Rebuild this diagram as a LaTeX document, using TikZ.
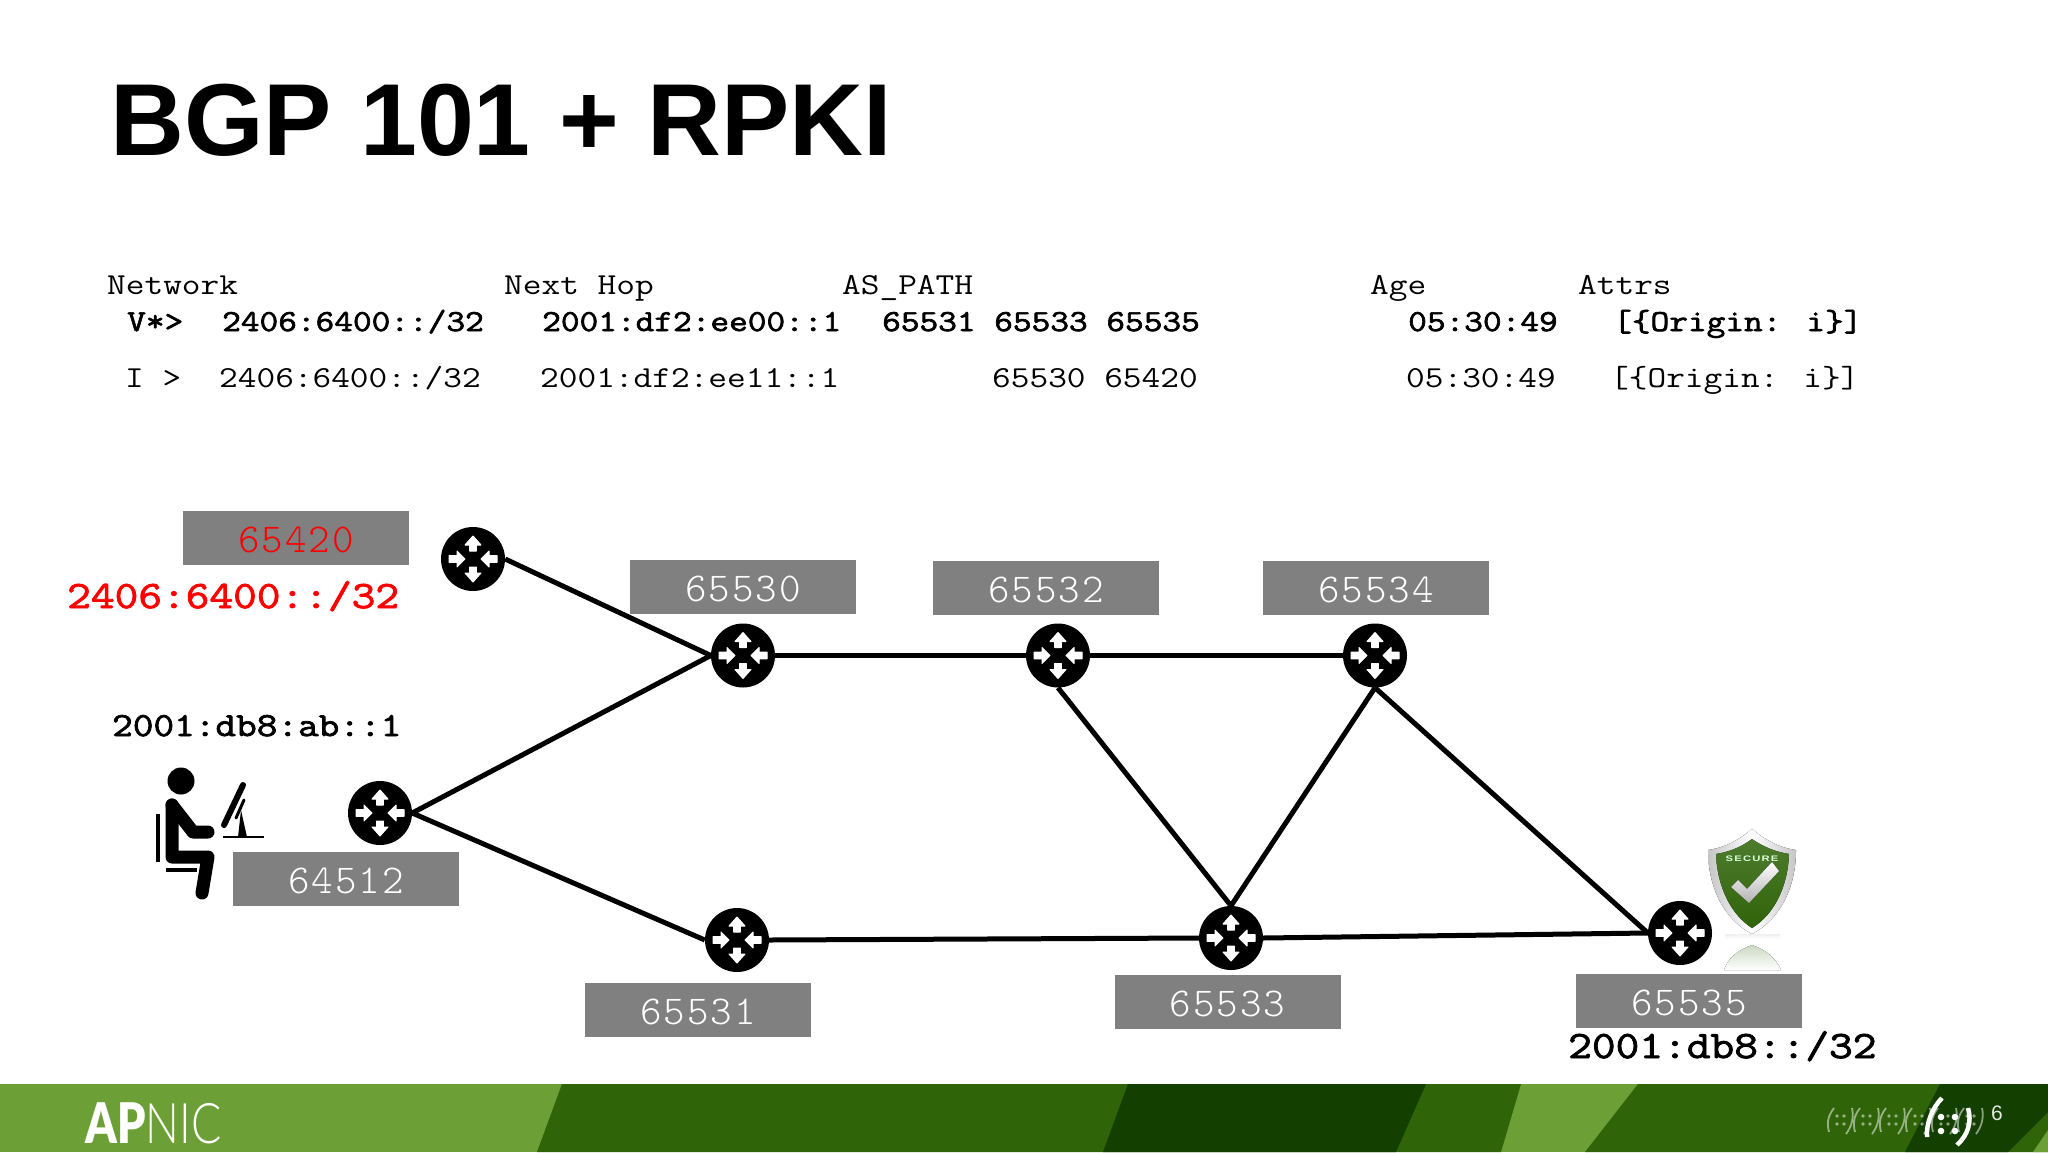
\documentclass[tikz,border=0pt]{standalone}
\usepackage{fontspec}
\setmainfont{Liberation Sans}
\newfontfamily\tabfont[FakeStretch=1.19]{Latin Modern Mono}
\newfontfamily\tabbf[FakeStretch=1.19,FakeBold=2.2]{Latin Modern Mono}
\newfontfamily\lblfont[LetterSpace=5]{Latin Modern Mono Light}
\newfontfamily\capfont{Liberation Sans}
\newfontfamily\secfont[LetterSpace=15,FakeStretch=1.4]{Liberation Sans}
\newfontfamily\apheavy{Lato Black}
\newfontfamily\apthin{Lato Light}
\definecolor{boxgray}{HTML}{808080}
\definecolor{flight}{HTML}{6CA037}
\definecolor{fmid}{HTML}{2F6409}
\definecolor{fdark}{HTML}{133F01}
\tikzset{
  router/.style={circle,fill=black,minimum size=64pt,inner sep=0pt,path picture={
    \begin{scope}[shift={(path picture bounding box.center)}]
      \filldraw[white,line width=1pt,line join=round] (0,-23)--(8,-14)--(3.3,-14)--(3.3,-8)--(-3.3,-8)--(-3.3,-14)--(-8,-14)--cycle;
      \filldraw[white,line width=1pt,line join=round] (0,23)--(8,14)--(3.3,14)--(3.3,8)--(-3.3,8)--(-3.3,14)--(-8,14)--cycle;
      \filldraw[white,line width=1pt,line join=round] (-8,0)--(-16,-8)--(-16,-3.3)--(-24,-3.3)--(-24,3.3)--(-16,3.3)--(-16,8)--cycle;
      \filldraw[white,line width=1pt,line join=round] (8,0)--(16,-8)--(16,-3.3)--(24,-3.3)--(24,3.3)--(16,3.3)--(16,8)--cycle;
    \end{scope}}},
  asbox/.style={fill=boxgray,minimum width=226pt,minimum height=54pt,inner sep=0pt,text=white,text height=29pt,text depth=0pt,font=\lblfont\fontsize{41}{44}\selectfont},
  link/.style={line width=5pt,black},
  tabtext/.style={anchor=base west,inner sep=0pt,font=\tabfont\fontsize{30.5}{32}\selectfont},
  tabbold/.style={anchor=base west,inner sep=0pt,font=\tabbf\fontsize{30.5}{32}\selectfont},
  biglabel/.style={anchor=base west,inner sep=0pt,font=\tabbf\fontsize{38.7}{40}\selectfont},
  limb/.style={line width=13pt,line cap=round,line join=round,black},
}
\begin{document}
\begin{tikzpicture}[x=1pt,y=-1pt]
\useasboundingbox (0,0) rectangle (2048,1152);
\fill[white] (0,0) rectangle (2048,1152);
% footer
\fill[flight] (0,1084) rectangle (2048,1152);
\fill[fmid] (562,1084)--(1521,1084)--(1501,1152)--(537,1152)--cycle;
\fill[fdark] (1128,1084)--(1426,1084)--(1396,1152)--(1103,1152)--cycle;
\fill[fmid] (1638,1084)--(2048,1084)--(2048,1152)--(1585,1152)--cycle;
\fill[fdark] (1940,1084)--(2048,1084)--(2048,1112)--(2008,1152)--(1905,1152)--cycle;
\fill[flight] (2048,1130)--(2048,1152)--(2033,1152)--cycle;
% title
\node[anchor=base west,inner sep=0pt,font=\capfont\bfseries\fontsize{102.3}{110}\selectfont] (title) at (110,155) {BGP 101 + RPKI};
% table
\node[tabtext] (h1) at (107,294) {Network};
\node[tabtext] (h2) at (504,294) {Next Hop};
\node[tabtext] (h3) at (842,294) {AS\_PATH};
\node[tabtext] (h4) at (1370,294) {Age};
\node[tabtext] (h5) at (1578,294) {Attrs};
\node[tabbold] (a0) at (127,331) {V*>};
\node[tabbold] (a1) at (222,331) {2406:6400::/32};
\node[tabbold] (a2) at (542,331) {2001:df2:ee00::1};
\node[tabbold] (a3) at (882,331) {65531 65533 65535};
\node[tabbold] (a4) at (1408,331) {05:30:49};
\node[tabbold] (a5) at (1613,331) {[\{Origin: i\}]};
\node[tabtext] (b0) at (125,387) {I >};
\node[tabtext] (b1) at (219,387) {2406:6400::/32};
\node[tabtext] (b2) at (540,387) {2001:df2:ee11::1};
\node[tabtext] (b3) at (992,387) {65530 65420};
\node[tabtext] (b4) at (1406,387) {05:30:49};
\node[tabtext] (b5) at (1610,387) {[\{Origin: i\}]};
% AS boxes
\node[asbox,text=red] (l65420) at (296,538) {65420};
\node[asbox] (l64512) at (346,879) {64512};
\node[asbox] (l65530) at (743,586.5) {65530};
\node[asbox] (l65532) at (1046,587.5) {65532};
\node[asbox] (l65534) at (1376,587.5) {65534};
\node[asbox] (l65531) at (698,1010) {65531};
\node[asbox] (l65533) at (1227.5,1002) {65533};
\node[asbox] (l65535) at (1689,1001) {65535};
% routers
\node[router] (r65420) at (473,559) {};
\node[router] (r64512) at (380,813) {};
\node[router] (r65530) at (743,655.5) {};
\node[router] (r65532) at (1058,655.5) {};
\node[router] (r65534) at (1375,655.5) {};
\node[router] (r65531) at (737,940) {};
\node[router] (r65533) at (1231,938) {};
\node[router] (r65535) at (1680,933) {};
% links
\draw[link] (r65420.east) -- (r65530.west);
\draw[link] (r64512.east) -- (r65530.west);
\draw[link] (r64512.east) -- (r65531.west);
\draw[link] (r65530.east) -- (r65532.west);
\draw[link] (r65532.east) -- (r65534.west);
\draw[link] (r65532.south) -- (r65533.north);
\draw[link] (r65534.south) -- (r65533.north);
\draw[link] (r65534.south) -- (r65535.west);
\draw[link] (r65531.east) -- (r65533.west);
\draw[link] (r65533.east) -- (r65535.west);
% labels
\node[biglabel,text=red] (p1) at (67,608) {2406:6400::/32};
\node[biglabel,font=\tabbf\fontsize{33.7}{36}\selectfont] (p2) at (112,736) {2001:db8:ab::1};
\node[biglabel] (p3) at (1568,1058) {2001:db8::/32};
% person
\fill (181,781) circle (13.5);
\draw[limb] (172,805) -- (172,857) -- (208,857) -- (202,893);
\draw[limb] (172,805) -- (193,832) -- (208,832);
\draw[line width=3.5pt] (158,814) -- (158,862);
\draw[line width=3.5pt] (166,870) -- (197,870);
\draw[line width=6pt,line cap=round] (243,785) -- (224,825);
\draw[line width=3pt,line cap=round] (244,800) -- (236,818);
\fill (241,810) -- (238,837) -- (247,837) -- cycle;
\draw[line width=1.5pt] (223,837) -- (264,837);
% shield
\fill[top color=fmid!25!white,bottom color=white] (1752,945) .. controls (1738,950) and (1728,958) .. (1724,970) -- (1781,970) .. controls (1776,958) and (1766,950) .. (1752,945) -- cycle;
\fill[top color=gray!12,bottom color=white] (1725,934) rectangle (1780,939);
\fill[left color=gray!45,right color=gray!45,middle color=white] (1752,829) .. controls (1735,843) and (1722,848) .. (1708,850) .. controls (1708,885) and (1722,918) .. (1752,934) .. controls (1782,918) and (1796,885) .. (1796,850) .. controls (1782,848) and (1769,843) .. (1752,829) -- cycle;
\fill[top color=fmid!85!white,bottom color=fmid] (1752,839) .. controls (1740,848) and (1728,852) .. (1716,854) .. controls (1717,885) and (1730,914) .. (1752,928) .. controls (1775,914) and (1788,885) .. (1789,854) .. controls (1777,852) and (1765,848) .. (1752,839) -- cycle;
\node[inner sep=0pt,text=green!15!white,font=\secfont\bfseries\fontsize{8}{9}\selectfont] (sec) at (1752,859) {SECURE};
\fill[top color=white,bottom color=gray!60] (1731,887) -- (1738,880) -- (1747,889) -- (1772,862) -- (1779,871) -- (1749,903) -- cycle;
% APNIC logo
\node[anchor=base west,inner sep=0pt,text=white,xscale=0.8,transform shape,font=\fontsize{56}{58}\selectfont] (apnic) at (85,1143) {{\apheavy AP}{\apthin NIC}};
% IPv6 logo
\foreach \k in {0,1,2,3,4,5}{
  \begin{scope}[shift={(1841+26*\k,1120)},white,opacity=.5]
    \draw[line width=1.8pt] (-7,-12) .. controls (-14,-3) and (-14,4) .. (-12,12);
    \draw[line width=1.8pt] (11,-12) .. controls (13,-3) and (11,6) .. (5,14);
    \foreach \a/\b in {-4/-4,3/-4,-4/4,3/4}{\fill (\a,\b) circle (1.9);}
  \end{scope}
}
\draw[white,line width=4.5pt] (1942,1098) .. controls (1932,1108) and (1926,1124) .. (1927,1137);
\draw[white,line width=4.5pt] (1968,1108) .. controls (1972,1122) and (1968,1135) .. (1957,1145);
\foreach \a/\b in {1941/1117,1955/1117,1941/1131,1955/1131}{\fill[white] (\a,\b) circle (3.3);}
\node[inner sep=0pt,text=white!85!fmid,font=\capfont\fontsize{21}{22}\selectfont] (pg) at (1997,1113) {6};
\end{tikzpicture}
\end{document}
